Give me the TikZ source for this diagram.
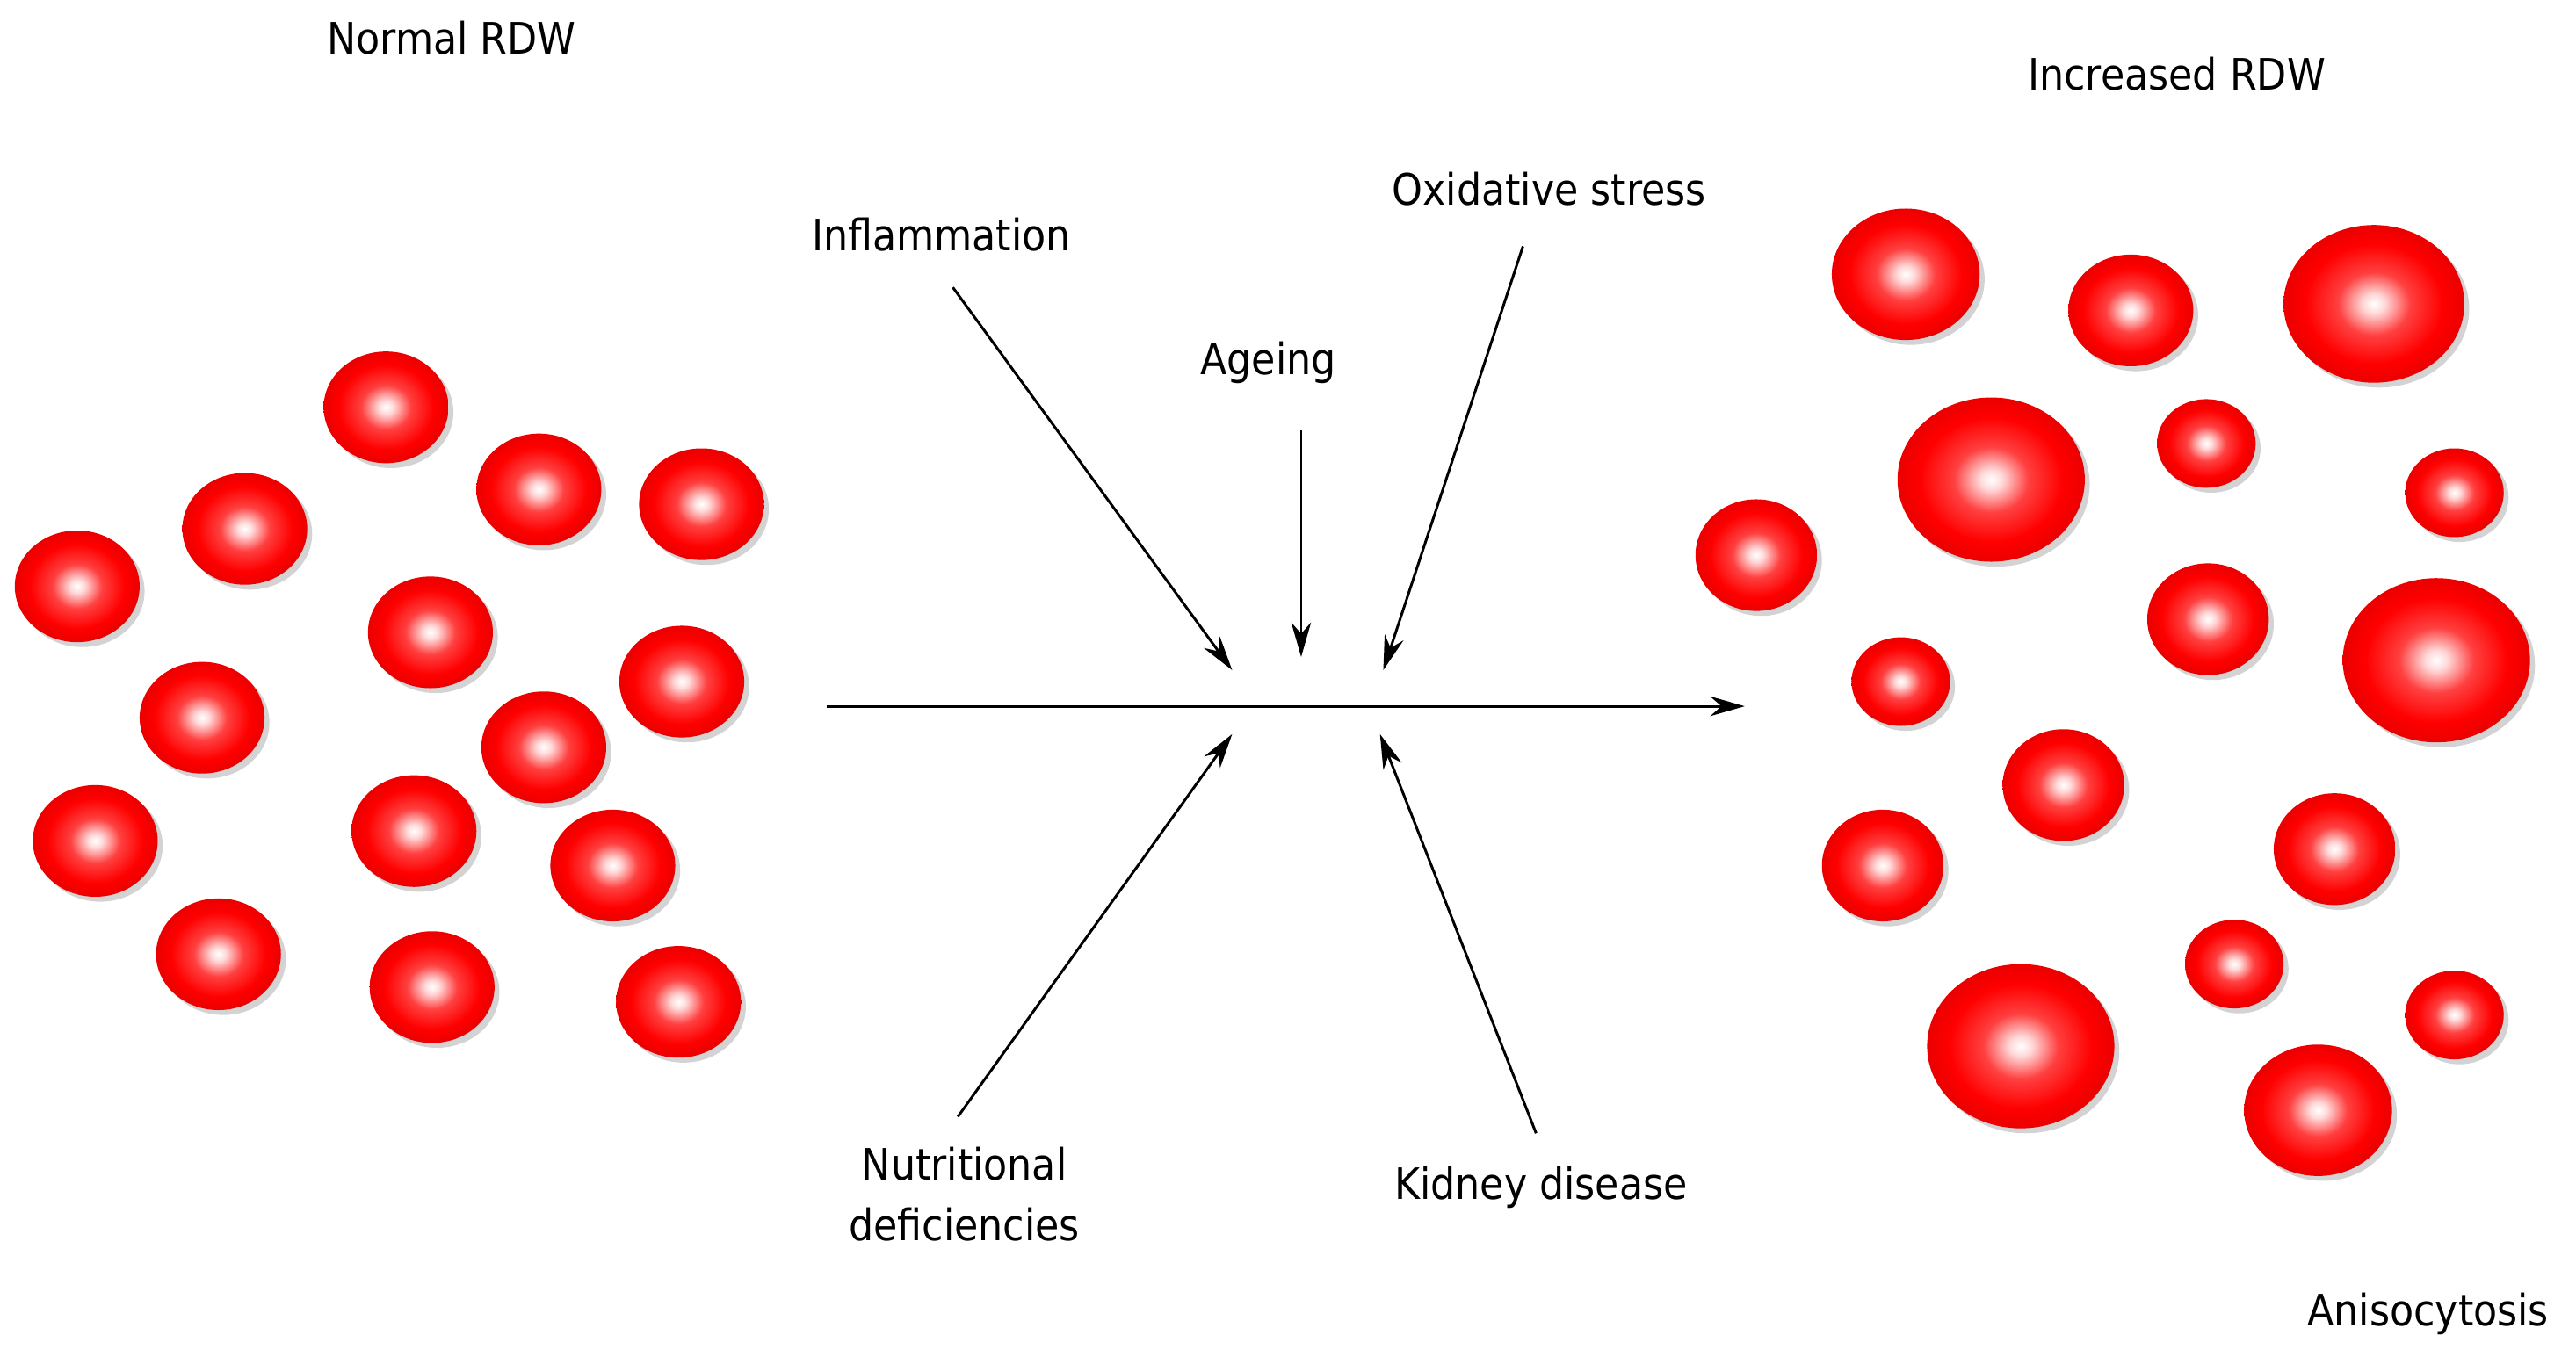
\documentclass[tikz,border=0pt]{standalone}
\usepackage{fontspec}
\setmainfont{DejaVu Sans Condensed}
\usetikzlibrary{shadows,arrows.meta}
\pgfdeclareradialshading{cellsh}{\pgfpoint{0bp}{0bp}}{color(0bp)=(white); color(3bp)=(white!85!red); color(10bp)=(red!75!white); color(19bp)=(red); color(25bp)=(red!92!black); color(50bp)=(red!92!black)}
\tikzset{cell/.style={shading=cellsh,draw=none,drop shadow={shadow xshift=0.06cm,shadow yshift=-0.06cm,opacity=0.35}},
lbl/.style={font=\fontsize{15}{21}\selectfont,align=center},
arr/.style={-{Stealth[length=0.42cm,width=0.24cm]},line width=0.9pt}}
\begin{document}
\begin{tikzpicture}[x=0.02cm,y=-0.02cm]
\useasboundingbox (0,0) rectangle (1568,826);
\foreach \x/\y/\a/\b in {235/248/38/34,328/298/38/34,427/307/38/34,149/322/38/34,47/357/38/34,262/385/38/34,415/415/38/34,123/437/38/34,331/455/38/34,58/512/38/34,252/506/38/34,373/527/38/34,133/581/38/34,263/601/38/34,413/610/38/34,
1160/167/45/40,1297/189/38/34,1445/185/55/48,1212/292/57/50,1343/270/30/27,1494/300/30/27,1069/338/37/34,1344/377/37/34,1483/402/57/50,1157/415/30/27,1256/478/37/34,1146/527/37/34,1421/517/37/34,1360/587/30/27,1230/637/57/50,1494/618/30/27,1411/676/45/40}
{\path[cell] (\x,\y) ellipse [x radius=\a*0.02cm, y radius=\b*0.02cm];}
\node[lbl] (n) at (275,23) {Normal RDW};
\node[lbl] (i) at (1325,45) {Increased RDW};
\node[lbl] (inf) at (573,143) {Inflammation};
\node[lbl] (age) at (772,221) {Ageing};
\node[lbl] (ox) at (943,115) {Oxidative stress};
\node[lbl] (nut) at (587,727) {Nutritional\\deficiencies};
\node[lbl] (kid) at (938,723) {Kidney disease};
\node[lbl] (an) at (1478,800) {Anisocytosis};
\coordinate (s) at (503,430); \coordinate (e) at (1062,430);
\coordinate (a1) at (580,175); \coordinate (b1) at (750,408);
\coordinate (a2) at (792,262); \coordinate (b2) at (792,400);
\coordinate (a3) at (927,150); \coordinate (b3) at (842,408);
\coordinate (a4) at (583,680); \coordinate (b4) at (750,447);
\coordinate (a5) at (935,690); \coordinate (b5) at (840,447);
\draw[arr] (s) -- (e);
\foreach \k in {1,...,5} {\draw[arr] (a\k) -- (b\k);}
\end{tikzpicture}
\end{document}
